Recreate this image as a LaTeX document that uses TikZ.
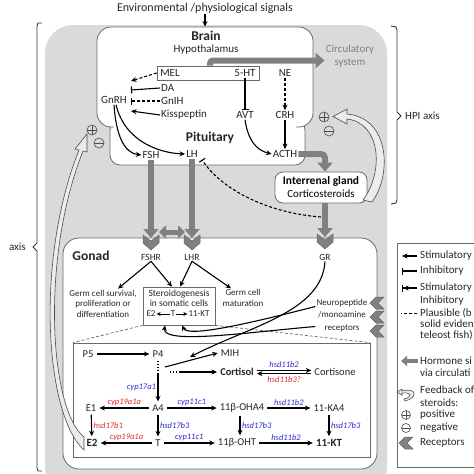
\documentclass[tikz,border=0pt]{standalone}
\usepackage{fontspec}
\setmainfont{Carlito}
\usetikzlibrary{arrows.meta}
\definecolor{enzblue}{RGB}{45,45,205}
\definecolor{enzred}{RGB}{225,45,45}
\definecolor{bggray}{RGB}{218,218,218}
\definecolor{hormgray}{RGB}{128,128,128}
\definecolor{edgegray}{RGB}{105,105,105}
\tikzset{
  txt/.style={font=\fontsize{11}{12.5}\selectfont, inner sep=1pt, text=black!85},
  path-txt/.style={font=\fontsize{10.5}{12}\selectfont, inner sep=3pt, text=black!85},
  big/.style={font=\bfseries\fontsize{13.5}{15}\selectfont, inner sep=1pt, text=black!85},
  small/.style={font=\fontsize{9}{10.5}\selectfont, inner sep=1pt, align=center, text=black!85},
  leg/.style={font=\fontsize{11}{12}\selectfont, inner sep=0pt, anchor=west, text=black!85},
  enz-blue/.style={font=\itshape\fontsize{8.5}{9}\selectfont, text=enzblue, inner sep=1.5pt},
  enz-red/.style={enz-blue, text=enzred},
  stim/.style={line width=1.1pt, -{Stealth[length=5.5pt,width=5pt]}},
  inhib/.style={line width=1.1pt, -{Bar[width=7pt]}},
  stim-inhib/.style={line width=1.1pt, -{Stealth[length=5.5pt,width=5pt]Bar[width=7pt]}},
  plausible/.style={dash pattern=on 3pt off 2pt},
  hormone/.style={line width=6pt, draw=hormgray, -{Triangle[length=9pt,width=15pt]}},
  box/.style={draw=edgegray, line width=0.8pt, fill=white},
  band/.style={draw=black!70, line width=0.6pt, fill=white!85!gray},
  receptor/.style={draw=black!60, line width=0.5pt, fill=hormgray},
  sign/.style={circle, draw=black!70, line width=0.6pt, minimum size=10pt, inner sep=0pt},
  plus-sign/.style={sign, path picture={\draw[black!70, line width=0.6pt]
      (path picture bounding box.north) -- (path picture bounding box.south)
      (path picture bounding box.west) -- (path picture bounding box.east);}},
  minus-sign/.style={sign, path picture={\draw[black!70, line width=0.6pt]
      (path picture bounding box.west) -- (path picture bounding box.east);}}
}
\newcommand{\recdown}[2]{%
  \filldraw[receptor] (#1-8,#2-8) -- (#1,#2-2) -- (#1+8,#2-8) -- (#1+8,#2) -- (#1,#2+7) -- (#1-8,#2) -- cycle;}
\newcommand{\recleft}[2]{%
  \filldraw[receptor] (#1+7,#2-6) -- (#1+1,#2) -- (#1+7,#2+6) -- (#1-1,#2+6) -- (#1-7,#2) -- (#1-1,#2-6) -- cycle;}

\begin{document}
\begin{tikzpicture}[x=1pt,y=-1pt]
  \useasboundingbox (0,0) rectangle (474,474);
  % grey background of the axis
  \fill[bggray, rounded corners=28pt] (45,25) rectangle (387,495);
  % brackets
  \draw[line width=0.9pt, black!80] (42,23) -- (38,23) -- (37,26) -- (37,243) -- (33,247)
    -- (37,251) -- (37,468) -- (38,471) -- (42,471);
  \draw[line width=0.9pt, black!80] (391,26) -- (396,27) -- (397,30) -- (397,112) -- (401,116)
    -- (397,120) -- (397,200) -- (396,203) -- (391,204);
  \node[txt, font=\fontsize{11}{12}\selectfont, anchor=east] (hpg-axis) at (27,247) {axis};
  \node[txt, font=\fontsize{11}{12}\selectfont, anchor=west] (hpi-axis) at (404,116) {HPI axis};

  % brain and pituitary
  \node[box, rounded corners=10pt, minimum width=195pt, minimum height=45pt] (pitbox) at (207.5,142.5) {};
  \node[box, rounded corners=14pt, minimum width=216pt, minimum height=100pt] (brainbox) at (205,77) {};
  \fill[white] (114,125) rectangle (296,130);
  \node[txt, font=\fontsize{12}{13}\selectfont] (env) at (205,8) {Environmental /physiological signals};
  \draw[stim] (env.south) -- (brainbox.north);
  \node[big] (brain) at (206,36) {Brain};
  \node[txt] (hypo) at (206,50) {Hypothalamus};
  \node[txt, align=center, text=gray, font=\fontsize{11}{13}\selectfont] (circ) at (350,56.5) {Circulatory\\system};
  \node[draw=edgegray, line width=0.7pt, minimum width=102pt, minimum height=14pt, inner sep=0pt] (melbox) at (208,73) {};
  \draw[hormone, rounded corners=3pt] ([xshift=2pt]melbox.north) |- ([yshift=-4pt]circ.west);
  \node[txt] (mel) at (170,73) {MEL};
  \node[txt] (sht) at (245,73) {5-HT};
  \node[txt] (ne) at (285,73) {NE};
  \node[txt] (avt) at (245,115) {AVT};
  \node[txt] (crh) at (285,115) {CRH};
  \node[txt, anchor=west] (da) at (160,88) {DA};
  \node[txt, anchor=west] (gnih) at (160,101) {GnIH};
  \node[txt, anchor=west] (kiss) at (160,115) {Kisspeptin};
  \node[txt] (gnrh) at (114,100) {GnRH};
  \coordinate (gnrh-mel) at (131,81);
  \coordinate (gnrh-da) at (131,90);
  \coordinate (gnrh-gnih) at (131,101);
  \coordinate (gnrh-kiss) at (131,111);
  \draw[stim, plausible] (melbox.west) -- (gnrh-mel);
  \draw[inhib] (da.west) -- (gnrh-da);
  \draw[inhib, plausible] (gnih.west) -- (gnrh-gnih);
  \draw[stim] (kiss.west) -- (gnrh-kiss);
  \draw[inhib] (sht.south) -- (avt.north);
  \draw[stim, plausible] (ne.south) -- (crh.north);
  \node[big] (pit) at (210,138) {Pituitary};
  \node[txt] (fsh) at (151,155) {FSH};
  \node[txt] (lh) at (192,154) {LH};
  \node[txt] (acth) at (285,154) {ACTH};
  \draw[stim] (gnrh.south) .. controls (116,135) and (124,153) .. (fsh.west);
  \draw[stim] ([xshift=2pt]gnrh.south) .. controls (125,142) and (160,153) .. (lh.west);
  \draw[stim] (crh.south) -- (acth.north);
  \draw[stim] (avt.south) .. controls (248,140) and (256,150) .. (acth.west);

  % interrenal gland
  \node[box, rounded corners=8pt, minimum width=92pt, minimum height=31pt, align=center,
    font=\fontsize{11}{13}\selectfont, inner sep=1pt] (inter) at (321,187.5)
    {{\bfseries\fontsize{11.5}{13}\selectfont Interrenal gland}\\Corticosteroids};
  \draw[hormone, rounded corners=4pt] (acth.east) -| ([xshift=4pt]inter.north);
  \filldraw[band] (363,200) .. controls (384,172) and (381,123) .. (347,119) -- (347,124)
    -- (333,116.5) -- (347,109) -- (347,114) .. controls (390,118) and (392,175) .. (372,202) -- cycle;
  \node[plus-sign] (fb-plus-r) at (324,117) {};
  \node[minus-sign] (fb-minus-r) at (329,131) {};

  % gonad
  \node[box, rounded corners=16pt, minimum width=314pt, minimum height=231pt] (gonadbox) at (220,353.5) {};
  \node[big] (gonad) at (91,256) {Gonad};
  \node[txt, font=\fontsize{9.5}{10}\selectfont] (fshr) at (151,257) {FSHR};
  \node[txt, font=\fontsize{9.5}{10}\selectfont] (lhr) at (192,257) {LHR};
  \node[txt, font=\fontsize{9.5}{10}\selectfont] (gr) at (325,257) {GR};
  \recdown{151}{243}
  \recdown{192}{243}
  \recdown{325}{242}
  \coordinate (fshr-in) at (151,238);
  \coordinate (lhr-in) at (192,238);
  \coordinate (gr-in) at (325,237);
  \draw[hormone] (fsh.south) -- (fshr-in);
  \draw[hormone] (lh.south) -- (lhr-in);
  \draw[hormone] ([xshift=4pt]inter.south) -- (gr-in);
  \coordinate (fsh-lh-l) at (159,232);
  \coordinate (fsh-lh-r) at (185,232);
  \draw[hormone, line width=5pt, {Triangle[length=7pt,width=13pt]}-{Triangle[length=7pt,width=13pt]}]
    (fsh-lh-l) -- (fsh-lh-r);
  \coordinate (cort-fb) at (321,217);
  \draw[inhib, plausible] (cort-fb) .. controls (268,213) and (222,190) .. ([xshift=3pt,yshift=-1pt]lh.south east);

  \node[small] (germ-surv) at (103,303.5) {Germ cell survival,\\proliferation or\\differentiation};
  \node[draw=edgegray, line width=0.7pt, minimum width=72pt, minimum height=38pt, inner sep=0pt] (ster) at (179,306) {};
  \node[small, font=\fontsize{9.5}{10.5}\selectfont] (ster-txt) at (179,298) {Steroidogenesis\\in somatic cells};
  \node[small, font=\fontsize{9}{10}\selectfont] (ster-e2) at (151,314) {E2};
  \node[small, font=\fontsize{9}{10}\selectfont] (ster-t) at (173,314) {T};
  \node[small, font=\fontsize{9}{10}\selectfont] (ster-kt) at (199,314) {11-KT};
  \draw[line width=0.7pt, -{Stealth[length=4pt,width=4pt]}] (ster-t) -- (ster-e2);
  \draw[line width=0.7pt, -{Stealth[length=4pt,width=4pt]}] (ster-t) -- (ster-kt);
  \node[small] (germ-mat) at (243,298) {Germ cell\\maturation};
  \draw[stim] (fshr.south) -- ([xshift=15pt]germ-surv.north);
  \draw[stim] (fshr.south) -- ([xshift=-7pt]ster.north);
  \draw[stim] (lhr.south) -- ([xshift=1pt]ster.north);
  \draw[stim] (lhr.south) -- ([xshift=-12pt]germ-mat.north);
  \node[small, font=\fontsize{9}{12.5}\selectfont] (neuro) at (342,315.5) {Neuropeptide\\/monoamine\\receptors};
  \recleft{377}{303}
  \recleft{377}{317}
  \recleft{377}{331}

  % steroidogenesis in detail
  \node[draw=edgegray, line width=0.7pt, minimum width=297pt, minimum height=114pt, inner sep=0pt] (detail) at (221.5,400) {};
  \draw[edgegray, line width=0.7pt, plausible] (ster.south west) -- (detail.north west);
  \draw[edgegray, line width=0.7pt, plausible] (ster.south east) -- (detail.north east);
  \coordinate (mih-ctrl) at (190,357);
  \draw[stim] (gr.south) .. controls (322,312) and (250,326) .. (mih-ctrl);
  \draw[stim] ([yshift=9pt]neuro.west) .. controls (255,322) and (188,338) .. ([xshift=3pt]ster.south);
  \draw[stim] ([yshift=-11pt]neuro.west) .. controls (250,332) and (162,345) .. ([xshift=-14pt]ster.south);
  \node[path-txt] (p5) at (88,354) {P5};
  \node[path-txt] (p4) at (158,354) {P4};
  \node[path-txt] (mih) at (230,353) {MIH};
  \node[path-txt, font=\bfseries\fontsize{10.5}{12}\selectfont] (cortisol) at (237,372) {Cortisol};
  \node[path-txt] (cortisone) at (335,372) {Cortisone};
  \node[path-txt] (e1) at (91,408) {E1};
  \node[path-txt] (a4) at (158,408) {A4};
  \node[path-txt] (oha4) at (242,408) {11β-OHA4};
  \node[path-txt] (ka4) at (329,408) {11-KA4};
  \node[path-txt, font=\bfseries\fontsize{11}{12}\selectfont] (e2) at (92,443) {E2};
  \node[path-txt] (t) at (158,443) {T};
  \node[path-txt] (oht) at (237,443) {11β-OHT};
  \node[path-txt, font=\bfseries\fontsize{11}{12}\selectfont] (kt) at (329,443) {11-KT};
  \draw[stim] (p5) -- (p4);
  \coordinate (p4-mih) at (165,367);
  \draw[stim] (p4-mih) -- (mih.west);
  \draw[dotted, line width=1.1pt] (p4.south) -- (158,373) coordinate (p4-dot);
  \draw[stim] (p4-dot) -- node[enz-blue, left] {cyp17a1} (a4.north);
  \draw[dotted, line width=1.1pt] (170,372) coordinate (cort-dot-l) -- (180,372) coordinate (cort-dot-r);
  \draw[stim] (cort-dot-r) -- (cortisol.west);
  \draw[stim] ([yshift=1.6pt]cortisol.east) -- node[enz-blue, above=1pt] {hsd11b2} ([yshift=1.6pt]cortisone.west);
  \draw[stim] ([yshift=-1.6pt]cortisone.west) -- node[enz-red, below=1pt] {hsd11b3?} ([yshift=-1.6pt]cortisol.east);
  \draw[stim] (a4) -- node[enz-red, above] {cyp19a1a} (e1);
  \draw[stim] (a4) -- node[enz-blue, above] {cyp11c1} (oha4);
  \draw[stim] (oha4) -- node[enz-blue, above] {hsd11b2} (ka4);
  \draw[stim] (e1) -- node[enz-red, right] {hsd17b1} (e2);
  \draw[stim] (a4) -- node[enz-blue, right] {hsd17b3} (t);
  \draw[stim] ([xshift=-2pt]oha4.south) -- node[enz-blue, right] {hsd17b3} ([xshift=3pt]oht.north);
  \draw[stim] (ka4) -- node[enz-blue, right] {hsd17b3} (kt);
  \draw[stim] (t) -- node[enz-red, above] {cyp19a1a} (e2);
  \draw[stim] (t) -- node[enz-blue, above] {cyp11c1} (oht);
  \draw[stim] (oht) -- node[enz-blue, above] {hsd11b2} (kt);

  % feedback of E2 to brain
  \filldraw[band] (84,450) .. controls (45,415) and (35,260) .. (79,150) -- (75,149) -- (87,134)
    -- (87,152) -- (83,151) .. controls (40,260) and (50,410) .. (84,437) -- cycle;
  \node[plus-sign] (fb-plus-l) at (92,130) {};
  \node[minus-sign] (fb-minus-l) at (99,143) {};

  % legend
  \node[draw=edgegray, line width=0.7pt, minimum width=83pt, minimum height=224pt, inner sep=0pt,
    anchor=north west] (legend) at (397,243) {};
  \node[leg] (l-stim) at (420,256) {Stimulatory};
  \node[leg] (l-inhib) at (420,271) {Inhibitory};
  \node[leg] (l-both) at (420,288) {Stimulatory};
  \node[leg] (l-both2) at (420,301) {Inhibitory};
  \node[leg] (l-plaus) at (420,313) {Plausible (b};
  \node[leg] (l-plaus2) at (420,324) {solid eviden};
  \node[leg] (l-plaus3) at (420,335) {teleost fish)};
  \node[leg] (l-horm) at (420,361) {Hormone si};
  \node[leg] (l-horm2) at (420,373) {via circulati};
  \node[leg] (l-fb) at (420,390) {Feedback of};
  \node[leg] (l-fb2) at (420,403) {steroids:};
  \node[leg] (l-pos) at (420,415) {positive};
  \node[leg] (l-neg) at (420,428) {negative};
  \node[leg] (l-rec) at (420,443) {Receptors};
  \draw[stim] ([xshift=-3pt]l-stim.west) -- ++(-15,0);
  \draw[inhib] ([xshift=-3pt]l-inhib.west) -- ++(-15,0);
  \draw[stim-inhib] ([xshift=-3pt]l-both.west) -- ++(-15,0);
  \draw[line width=1pt, plausible] ([xshift=-3pt]l-plaus.west) -- ++(-16,0);
  \draw[hormone, line width=4pt, -{Triangle[length=6pt,width=10pt]}] ([xshift=-2pt]l-horm.west) -- ++(-17,0);
  \filldraw[band] (402,389) -- (397,392) -- (402,395) -- (402,393) .. controls (412,392) and (413,397)
    .. (404,399) -- (405,401) .. controls (418,398) and (417,387) .. (402,391) -- cycle;
  \node[plus-sign, minimum size=9pt] (l-pos-sign) at (406,415) {};
  \node[minus-sign, minimum size=9pt] (l-neg-sign) at (406,428) {};
  \recleft{406}{443}
\end{tikzpicture}
\end{document}
